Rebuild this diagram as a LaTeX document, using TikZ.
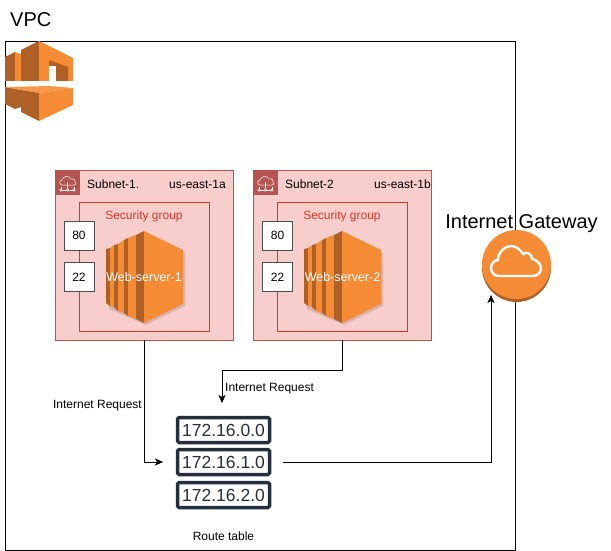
\documentclass[tikz,border=0pt]{standalone}
\usepackage{fontspec}
\setmainfont{Liberation Sans}
\usetikzlibrary{arrows.meta}
\definecolor{awsorange}{HTML}{F68B35}
\definecolor{awsdark}{HTML}{AE6026}
\definecolor{subnetfill}{HTML}{F8CECC}
\definecolor{subnetline}{HTML}{B85450}
\definecolor{sgred}{HTML}{DD3522}
\definecolor{navy}{HTML}{232F3E}
\tikzset{
    subnet/.style={draw=subnetline, fill=subnetfill, minimum width=178pt, minimum height=170pt, inner sep=0pt},
    secgroup/.style={draw=sgred, minimum width=130pt, minimum height=129pt, inner sep=0pt},
    portbox/.style={draw=black!70, fill=white, line width=0.8pt, minimum width=30pt, minimum height=29pt, inner sep=0pt, font=\fontsize{12}{14}\selectfont},
    routebox/.style={draw=navy, fill=white, line width=3.5pt, rounded corners=1.5pt, minimum width=92pt, minimum height=25pt, inner sep=0pt, text=navy, font=\fontsize{17.5}{20}\selectfont},
    label/.style={inner sep=0pt, font=\fontsize{12}{14}\selectfont},
    sglabel/.style={label, text=sgred},
    srvlabel/.style={label, text=white, font=\fontsize{12.5}{14}\selectfont},
    biglabel/.style={inner sep=0pt, font=\fontsize{20}{23}\selectfont},
    server/.pic={
        % back slices first
        \fill[black, opacity=0.12] (3,20) -- (79,22) -- (79,75) -- (40,94) -- (3,78) -- cycle;
        \fill[awsdark] (0,18) -- (4,17) -- (4,75) -- (0,72) -- cycle;
        \fill[awsorange] (4,17) -- (8,14) -- (8,76) -- (4,75) -- cycle;
        \fill[awsdark] (8,14) -- (12,13) -- (12,80) -- (8,76) -- cycle;
        \fill[awsorange] (12,13) -- (18,9) -- (18,82) -- (12,80) -- cycle;
        \fill[awsdark] (18,9) -- (22,7) -- (22,85) -- (18,82) -- cycle;
        \fill[awsorange] (22,7) -- (30,4) -- (30,88) -- (22,85) -- cycle;
        \fill[awsdark] (30,4) -- (38,0) -- (38,92) -- (30,88) -- cycle;
        \fill[awsorange] (38,0) -- (77,19) -- (77,73) -- (38,92) -- cycle;
    },
    subneticon/.pic={
        \fill[subnetline] (0,0) rectangle (25,25);
        \draw[white, line width=0.5pt] (7,15) .. controls (4,15) and (4,10) .. (7,10) .. controls (8,6) and (14,5) .. (16,9) .. controls (19,8) and (21,11) .. (20,12) .. controls (22,13) and (21,15) .. (19,15) -- cycle;
        \draw[white, line width=0.5pt] (12.5,12) -- (12.5,20) (6,20) -- (19,20) (6,17) -- (6,20) (19,17) -- (19,20);
        \draw[white, line width=0.5pt, fill=subnetline] (6,20) circle (1.3) (12.5,20) circle (1.3) (19,20) circle (1.3);
    },
}

\begin{document}
\begin{tikzpicture}[x=1pt, y=-1pt, >={Stealth[length=8pt, width=7pt, inset=2pt]}]
\useasboundingbox (0,0) rectangle (611,551);

% VPC
\node[draw=black, minimum width=510pt, minimum height=509pt, inner sep=0pt] (vpc) at (260,295.5){};
\node[biglabel, anchor=west] (vpclabel) at (10,20){VPC};
\fill[awsdark] (5,57) -- (15,52) -- (15,81) -- (5,81) -- cycle;
\fill[awsorange] (15,52) -- (21,54) -- (21,81) -- (15,81) -- cycle;
\fill[awsdark] (21,50) -- (39,41) -- (39,81) -- (21,81) -- cycle;
\fill[awsorange] (39,41) -- (73,58) -- (73,81) -- (56,81) -- (56,66) -- (49,66) -- (49,81) -- (39,81) -- cycle;
\fill[white] (49,66) rectangle (56,81);
\fill[awsdark] (49,60) -- (68,67) -- (68,81) -- (56,81) -- (56,66) -- (49,66) -- cycle;
\fill[awsdark] (5,87) -- (21,90) -- (21,107) -- (15,109) -- (5,104) -- cycle;
\fill[awsorange!90!white] (5,87) -- (50,86) -- (73,88) -- (39,93) -- (21,90) -- cycle;
\fill[awsdark] (21,90) -- (39,93) -- (39,121) -- (21,112) -- cycle;
\fill[awsorange] (39,93) -- (73,88) -- (73,105) -- (39,121) -- cycle;

% Subnets
\node[subnet] (subnet1) at (144,255){};
\node[subnet] (subnet2) at (342.5,255){};
\pic (icon1) at (55,170) {subneticon};
\pic (icon2) at (253,170) {subneticon};
\node[label, anchor=west] (name1) at (87,184){Subnet-1.};
\node[label, anchor=west] (name2) at (285,184){Subnet-2};
\node[label, anchor=east] (zone1) at (226,184){us-east-1a};
\node[label, anchor=east] (zone2) at (431,184){us-east-1b};

% Security groups
\node[secgroup] (sg1) at (144,266.5){};
\node[secgroup] (sg2) at (342,266.5){};
\node[sglabel] (sglabel1) at (144,216){Security group};
\node[sglabel] (sglabel2) at (342,216){Security group};
\node[portbox] (port80a) at (79,235.5){80};
\node[portbox] (port22a) at (79,277){22};
\node[portbox] (port80b) at (277.5,235.5){80};
\node[portbox] (port22b) at (277.5,277){22};

% Web servers
\pic (srv1) at (106,231) {server};
\pic (srv2) at (304,231) {server};
\node[srvlabel] (srvlabel1) at (144,277){Web-server-1};
\node[srvlabel] (srvlabel2) at (342.5,277){Web-server-2};

% Internet gateway
\fill[awsdark] (516.5,267.5) circle (34.5);
\node[circle, fill=awsorange, minimum size=69pt, inner sep=0pt] (igw) at (516.5,264.5){};
\draw[white, line width=2.4pt] (499,276) .. controls (494,276) and (491,272) .. (491,268) .. controls (491,263) and (495,260) .. (498,260) .. controls (498,252) and (505,246) .. (511,246) .. controls (516,246) and (521,250) .. (523,254) .. controls (527,251) and (532,254) .. (532,259) .. controls (537,260) and (541,264) .. (541,268) .. controls (541,272) and (538,276) .. (533,276) -- cycle;
\node[biglabel] (igwlabel) at (521.5,223.5){Internet Gateway};

% Route table
\node[routebox] (route0) at (223.5,430){172.16.0.0};
\node[routebox] (route1) at (223.5,462){172.16.1.0};
\node[routebox] (route2) at (223.5,495){172.16.2.0};
\node[label] (routelabel) at (223.5,536){Route table};

\coordinate (rtin) at (163,462);
\coordinate (rtout) at (283,462);
\coordinate (rttop) at (222,403);
\coordinate (bend2) at (222,370);
\coordinate (igwin) at (491,295);

\draw[->] (subnet1.south) |- (rtin);
\draw[->] (subnet2.south) |- (bend2) -- (rttop);
\draw[->] (rtout) -| (igwin);
\node[label, fill=white, anchor=east, inner sep=0.5pt] (req1) at (142.5,406){Internet Request};
\node[label, anchor=west] (req2) at (225,389){Internet Request};
\end{tikzpicture}
\end{document}
